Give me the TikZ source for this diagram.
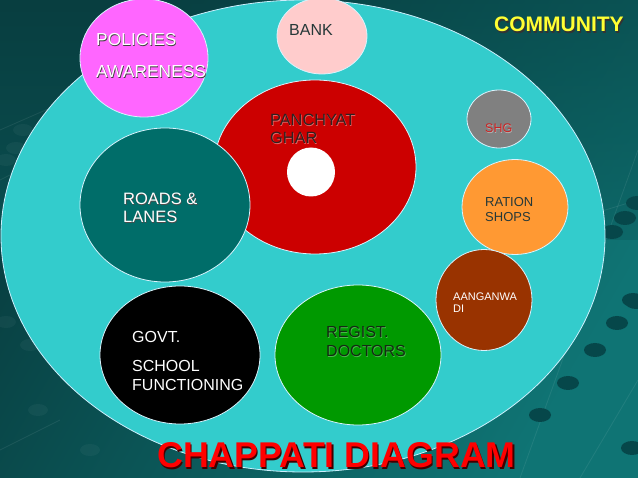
\documentclass[tikz,border=0pt]{standalone}
\usepackage{fontspec}
\setmainfont{Liberation Sans}
\usetikzlibrary{shapes.geometric}
\definecolor{bgdark}{HTML}{083E40}
\definecolor{bglight}{HTML}{0F7474}
\definecolor{cyanring}{HTML}{33CCCC}
\definecolor{pinkc}{HTML}{FF66FF}
\definecolor{bankc}{HTML}{FFCCCC}
\definecolor{redc}{HTML}{CC0000}
\definecolor{tealc}{HTML}{006D69}
\definecolor{grayc}{HTML}{808080}
\definecolor{orangec}{HTML}{FF9933}
\definecolor{brownc}{HTML}{993300}
\definecolor{greenc}{HTML}{009900}
\definecolor{darktxt}{HTML}{263838}
\definecolor{pantxt}{HTML}{2E2222}
\definecolor{doctxt}{HTML}{142A14}
\definecolor{dotc}{HTML}{06474A}
\definecolor{shgred}{HTML}{CC2222}
\definecolor{comyel}{HTML}{FFFF33}
% #1 name, #2 position, #3 size, #4 shadow colour, #5 text colour, #6 text
\newcommand\stxt[6]{%
  \node[lbl, font=\fontsize{#3}{#3}\selectfont, text=#4, xshift=0.6pt, yshift=-0.6pt] at #2 {#6};
  \node[lbl, font=\fontsize{#3}{#3}\selectfont, text=#5] (#1) at #2 {#6};}
\newcommand\sbtxt[6]{%
  \node[lbl, font=\fontsize{#3}{#3}\selectfont\bfseries, text=#4, xshift=1.2pt, yshift=-1.2pt] at #2 {#6};
  \node[lbl, font=\fontsize{#3}{#3}\selectfont\bfseries, text=#5] (#1) at #2 {#6};}
\begin{document}
\begin{tikzpicture}[x=1pt,y=-1pt,
  blob/.style={ellipse, draw=white!85!cyan, line width=0.8pt, inner sep=0pt},
  lbl/.style={anchor=base west, inner sep=0pt},
  dot/.style={fill=dotc, draw=none},
  faint/.style={draw=white, opacity=0.08, line width=0.8pt}]
\useasboundingbox (0,0) rectangle (638,478);
% background
\shade[left color=bgdark, right color=bglight, shading angle=60] (0,0) rectangle (638,478);
\shade[top color=bgdark, bottom color=bgdark!40!bglight, opacity=0.5] (0,0) rectangle (638,240);
% decorative lines and dots
\draw[faint] (638,150) -- (520,478);
\draw[faint] (638,380) -- (580,478);
\draw[faint] (638,200) -- (540,230);
\draw[faint] (0,130) -- (80,95);
\draw[faint] (0,180) -- (60,150);
\draw[faint] (0,450) -- (60,420);
\foreach \p in {(637,203),(625,218),(612,232),(633,300),(617,323),(595,350),(568,383),(540,415),(632,448),(636,302)}
  \fill[dot] \p ellipse (11pt and 7pt);
\foreach \p in {(23,130),(16,148),(6,160),(6,322),(30,345),(38,410),(90,450)}
  \fill[white, opacity=0.04] \p ellipse (10pt and 6pt);
% community ellipse
\node[ellipse, fill=cyanring, draw=white!80!cyan, line width=0.8pt, minimum width=604pt, minimum height=472pt, inner sep=0pt] (comm) at (303,236) {};
% circles
\node[blob, fill=pinkc, minimum width=128pt, minimum height=118pt] (pol) at (144,58) {};
\node[blob, fill=bankc, minimum width=90pt, minimum height=76pt] (bank) at (322,36) {};
\node[blob, fill=redc, minimum width=202pt, minimum height=174pt] (pan) at (315,167) {};
\node[ellipse, fill=white, draw=none, minimum width=48pt, minimum height=49pt, inner sep=0pt] (hole) at (311,172) {};
\node[blob, fill=tealc, minimum width=170pt, minimum height=154pt] (roads) at (165,205) {};
\node[blob, fill=grayc, minimum width=64pt, minimum height=58pt] (shg) at (499,119) {};
\node[blob, fill=orangec, minimum width=106pt, minimum height=95pt] (ration) at (515,207) {};
\node[blob, fill=brownc, minimum width=96pt, minimum height=101pt] (aang) at (484,300) {};
\node[blob, fill=greenc, minimum width=166pt, minimum height=140pt] (doc) at (358,355) {};
\node[blob, fill=black, minimum width=160pt, minimum height=138pt] (govt) at (180,355) {};
% labels
\stxt{t1}{(96,46)}{17.4}{black!75}{white}{POLICIES}
\stxt{t2}{(96,78)}{17.4}{black!75}{white}{AWARENESS}
\node[lbl, font=\fontsize{16}{16}\selectfont, text=darktxt] (t3) at (289,36) {BANK};
\sbtxt{t4}{(494,32)}{21}{black!80}{comyel}{COMMUNITY}
\stxt{t5}{(270,126)}{16.3}{white!40!redc}{pantxt}{PANCHYAT}
\stxt{t6}{(270,144)}{16.3}{white!40!redc}{pantxt}{GHAR}
\stxt{t7}{(485,133)}{12.5}{white!40!grayc}{shgred}{SHG}
\node[lbl, font=\fontsize{13}{13}\selectfont, text=darktxt] (t8) at (485,207) {RATION};
\node[lbl, font=\fontsize{13}{13}\selectfont, text=darktxt] (t9) at (485,222) {SHOPS};
\stxt{t10}{(123,205)}{16.5}{black!70}{white}{ROADS \&}
\stxt{t11}{(123,223)}{16.5}{black!70}{white}{LANES}
\node[lbl, font=\fontsize{11}{11}\selectfont, text=white] (t12) at (453,301) {AANGANWA};
\node[lbl, font=\fontsize{11}{11}\selectfont, text=white] (t13) at (453,313) {DI};
\stxt{t14}{(326,338)}{16}{white!30!greenc}{doctxt}{REGIST.}
\stxt{t15}{(326,357)}{16}{white!30!greenc}{doctxt}{DOCTORS}
\node[lbl, font=\fontsize{16}{16}\selectfont, text=white] (t16) at (132,343) {GOVT.};
\node[lbl, font=\fontsize{16}{16}\selectfont, text=white] (t17) at (132,372) {SCHOOL};
\node[lbl, font=\fontsize{16}{16}\selectfont, text=white] (t18) at (132,391) {FUNCTIONING};
\sbtxt{title}{(157,468)}{35.8}{black!75!red}{red}{CHAPPATI DIAGRAM}
\end{tikzpicture}
\end{document}
